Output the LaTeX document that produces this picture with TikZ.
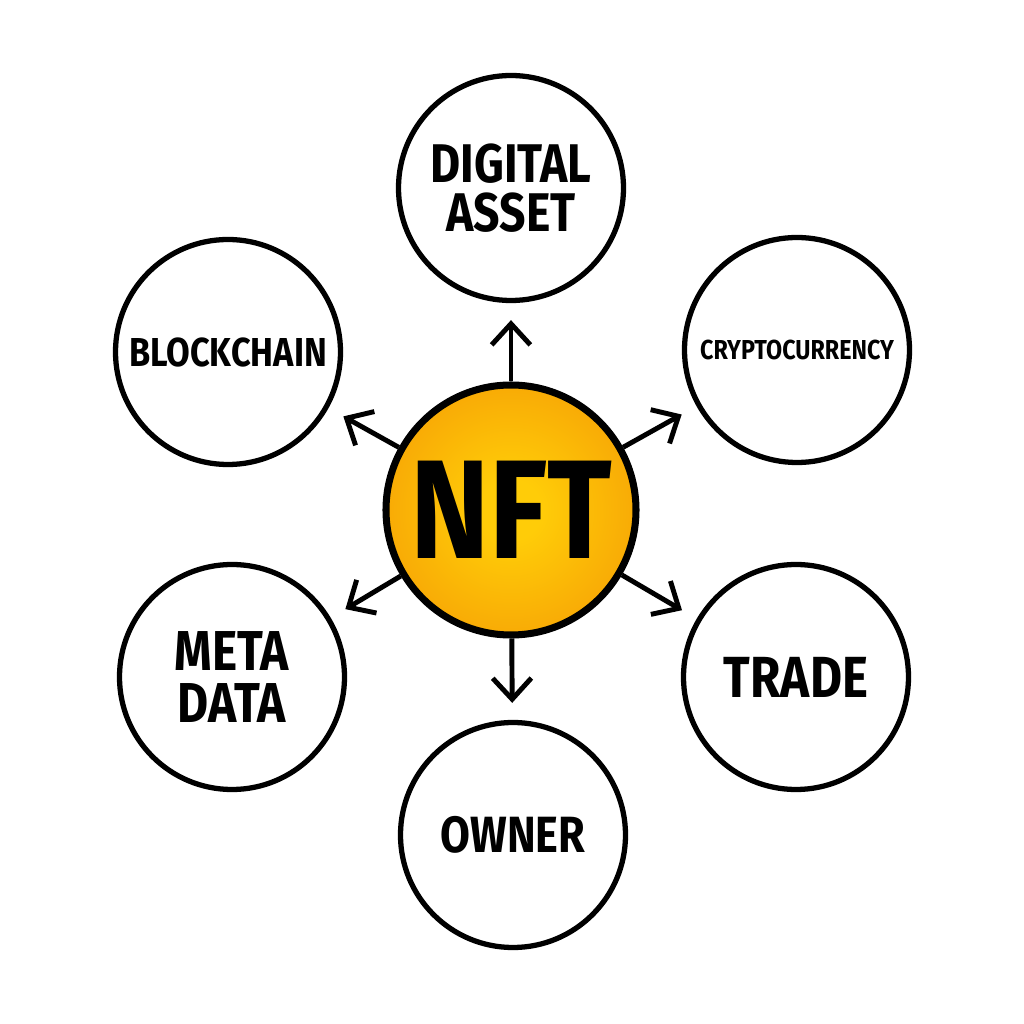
\documentclass[tikz,border=0pt]{standalone}
\usepackage{fontspec}
\newfontfamily\markerfont{Fira Sans}[UprightFont=* Bold, FakeStretch=0.85]
\usetikzlibrary{arrows.meta}
\definecolor{nftinner}{RGB}{255,204,8}
\definecolor{nftouter}{RGB}{245,155,4}
\pgfdeclareradialshading{nftglow}{\pgfpointorigin}{color(0bp)=(nftinner); color(6bp)=(nftinner); color(34bp)=(nftouter); color(50bp)=(nftouter)}
\begin{document}
\begin{tikzpicture}[
        idea/.style={circle, draw, line width=1.5pt, minimum size=2.25cm, align=center, inner sep=0pt},
        core/.style={circle, draw, line width=2pt, minimum size=2.5cm, shading=nftglow, inner sep=0pt,
            font=\markerfont\fontsize{40}{40}\selectfont},
        link/.style={-{Straight Barb[length=6pt,width=11pt]}, line width=1.4pt, shorten >=0.17cm}
    ]
        \useasboundingbox (0,0) rectangle (10.24,10.24);
        % Draw center
        \node[core] (nft) at (5.11,5.14) {NFT};
        % Draw ideas
        \node[idea, font=\markerfont\fontsize{15.5}{14}\selectfont] (asset) at (5.11,8.36) {DIGITAL\\ASSET};
        \node[idea, font=\markerfont\fontsize{11.5}{12}\selectfont] (chain) at (2.28,6.72) {BLOCKCHAIN};
        \node[idea, font=\markerfont\fontsize{7.8}{8}\selectfont] (crypto) at (7.97,6.74) {CRYPTOCURRENCY};
        \node[idea, font=\markerfont\fontsize{16}{15}\selectfont] (meta) at (2.32,3.47) {META\\DATA};
        \node[idea, font=\markerfont\fontsize{16.5}{16}\selectfont] (trade) at (7.96,3.47) {TRADE};
        \node[idea, font=\markerfont\fontsize{14.5}{14}\selectfont] (owner) at (5.13,1.89) {OWNER};
        % Draw arrows
        \foreach \n in {asset, chain, crypto, meta, trade, owner} {
            \draw[link] (nft) -- (\n);
        }
    \end{tikzpicture}
\end{document}
